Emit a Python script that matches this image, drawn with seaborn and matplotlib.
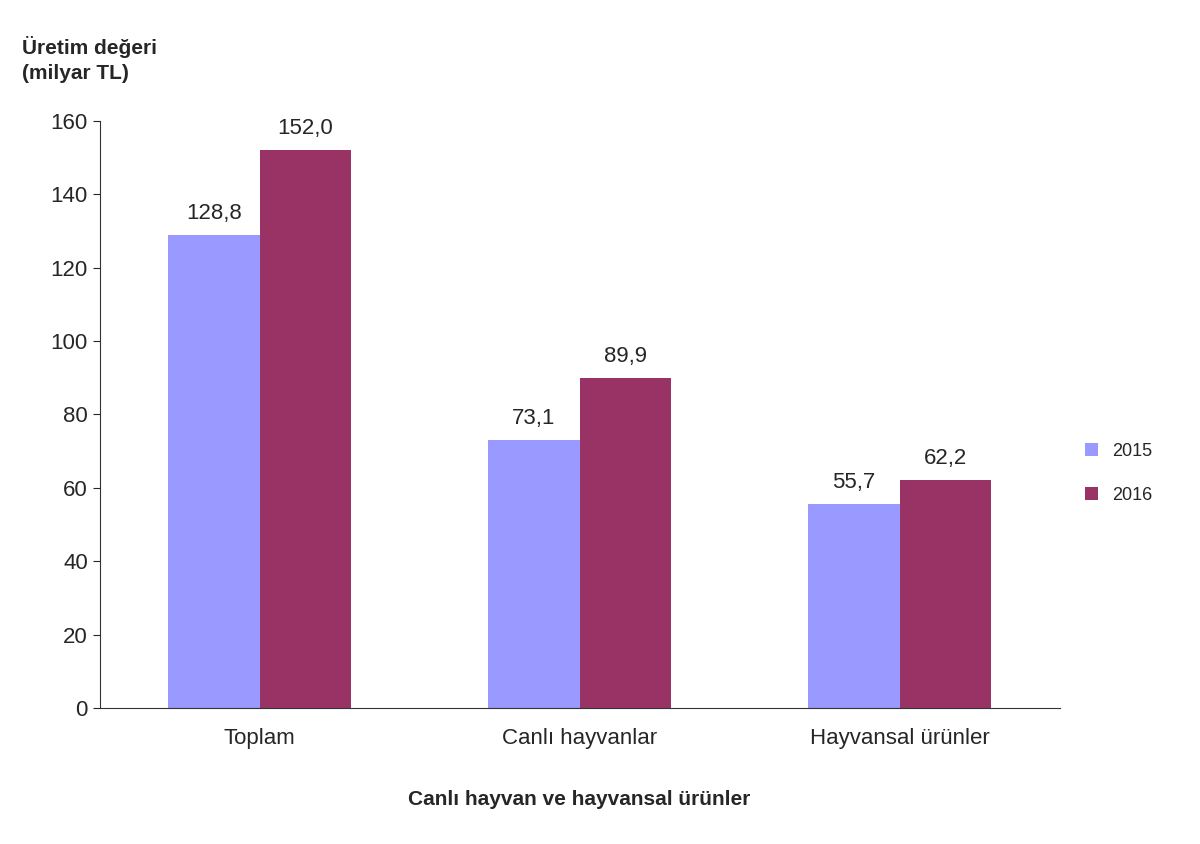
import matplotlib
matplotlib.use("Agg")
import matplotlib.pyplot as plt
import seaborn as sns
import pandas as pd

categories = ["Toplam", "Canlı hayvanlar", "Hayvansal ürünler"]
years = ["2015", "2016"]
values_2015 = [128.8, 73.1, 55.7]
values_2016 = [152.0, 89.9, 62.2]

df = pd.DataFrame({
    "cat": categories * 2,
    "year": [years[0]] * 3 + [years[1]] * 3,
    "val": values_2015 + values_2016,
})

sns.set_style("white")
plt.rcParams["font.family"] = ["Liberation Sans", "DejaVu Sans"]
fig = plt.figure(figsize=(12, 8.44), dpi=100)
ax = fig.add_axes([0.083, 0.161, 0.8, 0.696])
sns.barplot(data=df, x="cat", y="val", hue="year", order=categories,
            palette={"2015": "#9999FF", "2016": "#993366"}, width=0.57,
            saturation=1, ax=ax, legend=True, linewidth=0, gap=0)
for cont in ax.containers:
    ax.bar_label(cont, labels=[f"{v:.1f}".replace(".", ",") for v in cont.datavalues],
                 padding=8, fontsize=16)
ax.set_xlim(-0.5, 2.5)
ax.set_ylim(0, 160)
ax.set_yticks(range(0, 161, 20))
ax.tick_params(axis="y", labelsize=16, length=5, direction="out", left=True)
ax.tick_params(axis="x", labelsize=16, length=0, pad=14)
for s in ["top", "right"]:
    ax.spines[s].set_visible(False)
for s in ["left", "bottom"]:
    ax.spines[s].set_color("#333333")
ax.set_xlabel("Canlı hayvan ve hayvansal ürünler", fontsize=15, fontweight="bold", labelpad=30)
ax.set_ylabel("")
fig.text(0.018, 0.93, "Üretim değeri\n(milyar TL)", fontsize=15, fontweight="bold",
         va="center", ha="left", linespacing=1.4)
ax.legend(loc="center left", bbox_to_anchor=(1.01, 0.40), frameon=False,
          fontsize=13, handlelength=0.7, handleheight=0.7, labelspacing=1.5)
fig.savefig("out.png", dpi=100)
